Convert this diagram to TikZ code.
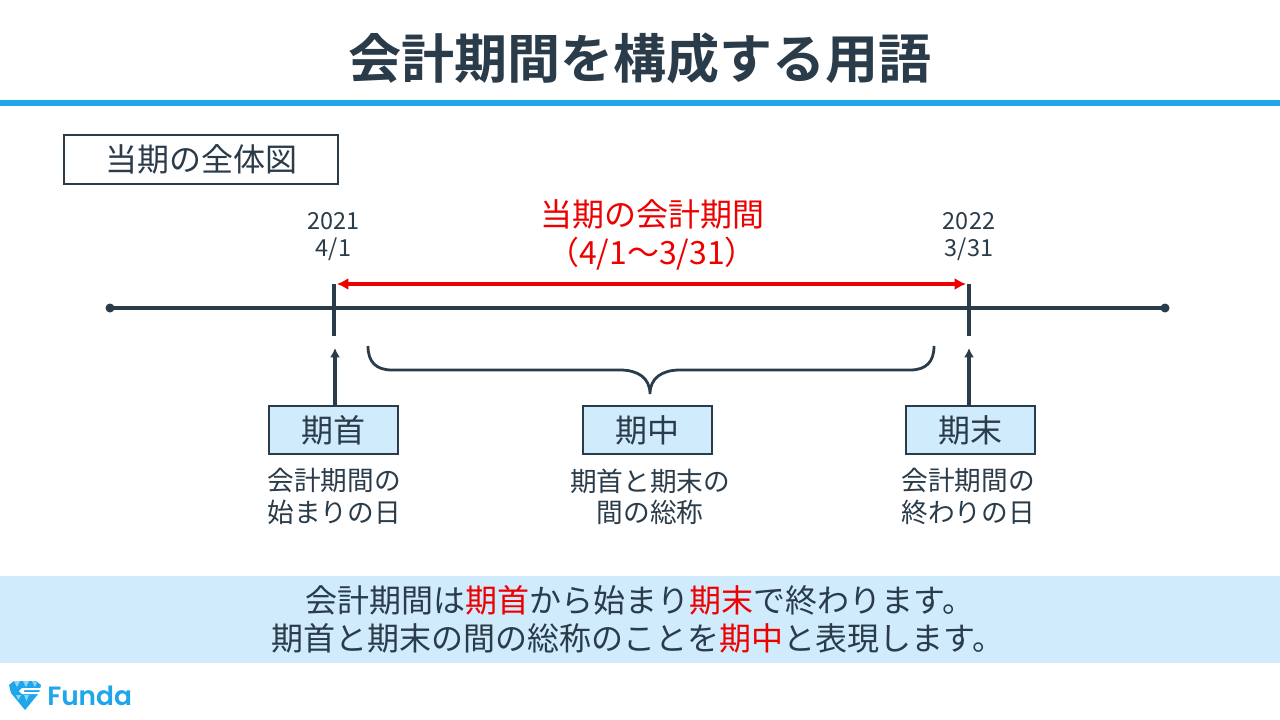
\documentclass[tikz,border=0pt]{standalone}
\usepackage{fontspec}
\setmainfont{Noto Sans CJK JP}
\newfontfamily\boldjp{Noto Sans CJK JP Bold}
\newfontfamily\latinsans{Poppins SemiBold}
\definecolor{navy}{HTML}{2A3B4A}
\definecolor{bluebar}{HTML}{1EA5EA}
\definecolor{pale}{HTML}{CFEBFC}
\definecolor{redc}{HTML}{EE0000}
\definecolor{gemlight}{HTML}{8FD3F6}
\usetikzlibrary{arrows.meta}
\tikzset{
 px/.style={x=0.75pt,y=-0.75pt},
 txt/.style n args={2}{text=navy,inner sep=0pt,align=center,font=\fontsize{#1}{#2}\selectfont},
 termbox/.style={draw=navy,fill=pale,line width=1.3pt,minimum width=96.5pt,minimum height=36pt,inner sep=0pt,text=navy,font=\fontsize{24}{24}\selectfont},
 tick/.style={draw=navy,line width=2.5pt},
 up/.style={draw=navy,line width=2.5pt,-{Latex[length=7pt,width=7.5pt]}}
}
\begin{document}
\begin{tikzpicture}[px]
\useasboundingbox (0,0) rectangle (1280,720);
\fill[white] (0,0) rectangle (1280,720);
\node[txt={39.8}{40}] (title) at (640,58) {\boldjp 会計期間を構成する用語};
\fill[bluebar] (0,100) rectangle (1280,106);
\node[draw=navy,line width=1.3pt,minimum width=205pt,minimum height=37pt,inner sep=0pt,text=navy,font=\fontsize{24}{24}\selectfont] (head) at (201,159.5) {当期の全体図};
\coordinate (ls) at (110,308); \coordinate (le) at (1165,308);
\draw[navy,line width=2.5pt] (ls) -- (le);
\fill[navy] (ls) circle (4.5); \fill[navy] (le) circle (4.5);
\coordinate (t1a) at (334,284); \coordinate (t1b) at (334,336);
\coordinate (t2a) at (969,284); \coordinate (t2b) at (969,336);
\draw[tick] (t1a) -- (t1b); \draw[tick] (t2a) -- (t2b);
\draw[redc,line width=3pt,{Latex[length=8.5pt,width=9pt]}-{Latex[length=8.5pt,width=9pt]},shorten <=2.2pt,shorten >=2.2pt] (t1a) -- (t2a);
\node[txt={17.6}{20.3}] (y1) at (333.5,237) {2021\\4/1};
\node[txt={17.6}{20.3}] (y2) at (969,237) {2022\\3/31};
\node[inner sep=0pt,align=center,text=redc,font=\fontsize{24}{28.5}\selectfont] (red) at (652,235) {当期の会計期間\\（4/1〜3/31）};
\draw[navy,line width=2.1pt] (368,346) .. controls (368,362) and (376,370) .. (392,370) -- (620,370) .. controls (638,370) and (650,378) .. (650,394) .. controls (650,378) and (662,370) .. (680,370) -- (910,370) .. controls (926,370) and (934,362) .. (934,346);
\node[termbox] (a) at (333.5,430) {期首};
\node[termbox] (b) at (647.5,430) {期中};
\node[termbox] (c) at (970.5,430) {期末};
\coordinate (aup) at (335,348); \coordinate (cup) at (969,348);
\draw[up] (a.north -| aup) -- (aup);
\draw[up] (c.north -| cup) -- (cup);
\node[txt={20}{23.4}] (at) at (334,496.5) {会計期間の\\始まりの日};
\node[txt={20}{23.4}] (bt) at (650,496.5) {期首と期末の\\間の総称};
\node[txt={20}{23.4}] (ct) at (968,496.5) {会計期間の\\終わりの日};
\fill[pale] (0,576) rectangle (1280,663);
\node[txt={24}{24}] (m1) at (640,600) {会計期間は\textcolor{redc}{期首}から始まり\textcolor{redc}{期末}で終わります。};
\node[txt={24}{24}] (m2) at (638,638) {期首と期末の間の総称のことを\textcolor{redc}{期中}と表現します。};
\fill[bluebar] (9,685) -- (14,681) -- (36,681) -- (41,685) -- (39,693) -- (25,710) -- (11,693) -- cycle;
\fill[gemlight] (14,681) -- (20,681) -- (17,687) -- cycle (23,681) -- (29,681) -- (26,687) -- cycle (32,681) -- (37,682) -- (35,687) -- cycle (16,695) -- (21,695) -- (18.5,700) -- cycle (24,695) -- (29,695) -- (26.5,701) -- cycle;
\fill[white] (41,688) -- (22,688) -- (19,691) -- (22,694) -- (40,694) -- (40,692) -- (24,692) -- (24,690) -- (41,690) -- cycle;
\node[inner sep=0pt,anchor=west,text=bluebar,font=\fontsize{19.8}{20}\latinsans] (logo) at (47,696) {Funda};
\end{tikzpicture}
\end{document}
